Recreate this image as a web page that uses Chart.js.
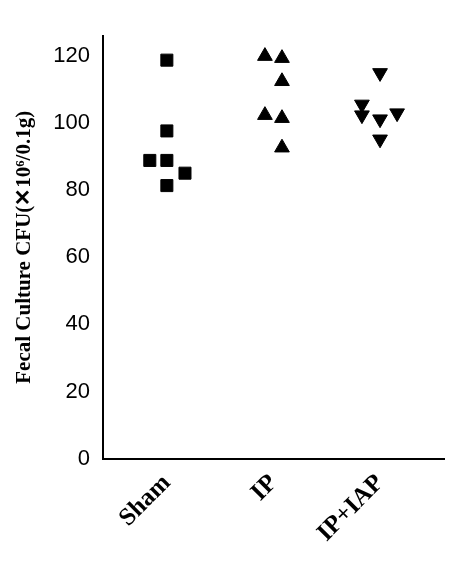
<!DOCTYPE html>
<html><head><meta charset="utf-8">
<script src="https://cdn.jsdelivr.net/npm/chart.js@4"></script>
<style>body{margin:0;background:#fff}#wrap{width:474px;height:568px}</style>
</head><body><div id="wrap"><canvas id="c"></canvas></div>
<script>
const groups = ['Sham', 'IP', 'IP+IAP'];
const yTicks = [0, 20, 40, 60, 80, 100, 120];
// [x, y] per animal; x = group index with jitter
const shamPts = [[1, 118.8], [1, 97.7], [0.84, 88.9], [1, 88.9], [1.17, 85.1], [1, 81.4]];
const ipPts = [[1.92, 120], [2.08, 119.4], [2.08, 112.5], [1.92, 102.4], [2.08, 101.5], [2.08, 92.7]];
const iapPts = [[3, 115], [2.83, 105.6], [2.83, 102.4], [3, 101.2], [3.16, 103], [3, 95.2]];

const toXY = pts => pts.map(p => ({x: p[0], y: p[1]}));
new Chart(document.getElementById('c'), {
    type: 'scatter',
    data: {
        datasets: [
            {data: toXY(shamPts), pointStyle: 'rect', radius: 8.5, backgroundColor: '#000', borderColor: '#000'},
            {data: toXY(ipPts), pointStyle: 'triangle', radius: 8.5, backgroundColor: '#000', borderColor: '#000'},
            {data: toXY(iapPts), pointStyle: 'triangle', rotation: 180, radius: 8.5, backgroundColor: '#000', borderColor: '#000'}
        ]
    },
    options: {
        responsive: true,
        maintainAspectRatio: false,
        animation: false,
        layout: {padding: {top: 36, right: 30, left: 8, bottom: 10}},
        plugins: {legend: {display: false}, tooltip: {enabled: false}},
        scales: {
            x: {
                type: 'linear', min: 0.4, max: 3.6,
                afterBuildTicks: s => { s.ticks = groups.map((g, i) => ({value: i + 1})); },
                ticks: {
                    callback: v => groups[v - 1],
                    color: '#000', maxRotation: 45, minRotation: 45, padding: 10,
                    font: {family: 'Liberation Serif', size: 25, weight: 'bold'}
                },
                grid: {display: false, drawTicks: false},
                border: {color: '#000', width: 2}
            },
            y: {
                min: 0, max: 126,
                afterBuildTicks: s => { s.ticks = yTicks.map(v => ({value: v})); },
                ticks: {color: '#000', font: {family: 'Liberation Sans', size: 22}, padding: 4},
                grid: {display: false, drawTicks: true, tickLength: 9, tickColor: '#000', tickWidth: 2},
                border: {color: '#000', width: 2},
                title: {
                    display: true, text: 'Fecal Culture CFU(\u271510\u2076/0.1g)', color: '#000',
                    font: {family: 'Liberation Serif', size: 21, weight: 'bold'}, padding: {bottom: 12}
                }
            }
        }
    }
});
</script></body></html>
